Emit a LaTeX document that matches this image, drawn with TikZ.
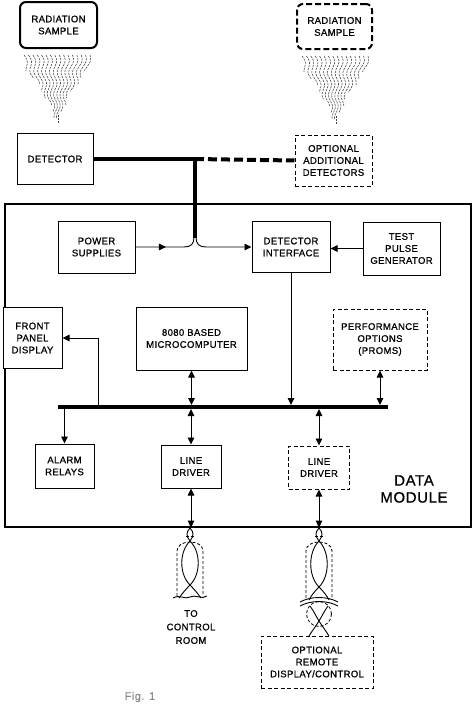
\documentclass[tikz,border=0pt]{standalone}
\usepackage{fontspec}
\setmainfont{Liberation Sans}[LetterSpace=4, FakeBold=0.8]
\usetikzlibrary{arrows.meta,decorations.markings}
\begin{document}
\begin{tikzpicture}[x=1pt,y=-1pt,
  font=\fontsize{9.5}{12}\selectfont,
  box/.style={draw, line width=1pt, align=center, inner sep=0pt, fill=white},
  dbox/.style={box, dash pattern=on 4pt off 2.5pt},
  tip/.style={-{Triangle[length=7pt,width=6.5pt]}},
  dtip/.style={{Triangle[length=7pt,width=6.5pt]}-{Triangle[length=7pt,width=6.5pt]}},
  conn/.style={line width=0.9pt},
  shield/.style={line width=0.8pt, dash pattern=on 3pt off 2pt},
  strand/.style={line width=0.9pt},
  midarrow/.style={postaction={decorate}, decoration={markings, mark=at position #1 with {\arrow{Triangle[length=7pt,width=6.5pt]}}}},
  hair/.style={line width=0.55pt, dash pattern=on 2.2pt off 1pt, black!75}
]
\useasboundingbox (0,0) rectangle (474,705);

% radiation samples
\node[box, line width=2pt, rounded corners=6pt, minimum width=77pt, minimum height=46pt] (rs1) at (58.5,25) {RADIATION\\SAMPLE};
\node[box, line width=2pt, rounded corners=6pt, dash pattern=on 6pt off 3pt, minimum width=75pt, minimum height=45pt] (rs2) at (334.5,26.5) {RADIATION\\SAMPLE};

% radiation fans
\foreach \cx/\ty in {57/55, 335/56} {
  \foreach \t in {-33,-28.6,-24.2,-19.8,-15.4,-11,-6.6,-2.2,2.2,6.6,11,15.4,19.8,24.2,28.6,33} {
    \pgfmathsetmacro\L{62*(1-abs(\t)/40)+5}
    \draw[hair] plot[domain=0:\L, samples=30, smooth] ({\cx + \t*(1-0.5*\x/70) + 1.8*sin(\x*16)}, {\ty + \x});
  }
  \draw[hair] (\cx+1,\ty+60) -- (\cx+1,\ty+68);
}

% detector and optional detectors
\node[box, minimum width=76pt, minimum height=51pt] (det) at (55,159) {DETECTOR};
\node[dbox, minimum width=77pt, minimum height=51pt] (oad) at (333.5,160.5) {OPTIONAL\\ADDITIONAL\\DETECTORS};

% data module frame
\node[draw, line width=1.3pt, minimum width=466pt, minimum height=323pt, inner sep=0pt] (mod) at (238,365.5) {};

% boxes inside module
\node[box, minimum width=77pt, minimum height=52pt] (ps) at (96.5,247) {POWER\\SUPPLIES};
\node[box, minimum width=78pt, minimum height=51pt] (di) at (291,247) {DETECTOR\\INTERFACE};
\node[box, minimum width=77pt, minimum height=53pt] (tpg) at (401.5,248.5) {TEST\\PULSE\\GENERATOR};
\node[box, minimum width=59pt, minimum height=61pt] (fpd) at (32.5,338) {FRONT\\PANEL\\DISPLAY};
\node[box, minimum width=111pt, minimum height=63pt] (mc) at (191.5,338.5) {8080 BASED\\MICROCOMPUTER};
\node[dbox, minimum width=94pt, minimum height=61pt] (po) at (380,339.5) {PERFORMANCE\\OPTIONS\\(PROMS)};
\node[box, minimum width=59pt, minimum height=44pt] (ar) at (64.5,466) {ALARM\\RELAYS};
\node[box, minimum width=60pt, minimum height=43pt] (ld1) at (191,466.5) {LINE\\DRIVER};
\node[dbox, minimum width=61pt, minimum height=43pt] (ld2) at (319,467.5) {LINE\\DRIVER};
\node[align=center, font=\fontsize{15}{17}\selectfont] (dm) at (414,489) {DATA\\MODULE};

% thick detector cable
\coordinate (J) at (195,159);
\coordinate (T) at (195,238);
\draw[line width=4pt] (det.east) -- (197,159);
\draw[line width=4pt, dash pattern=on 9pt off 4pt] (J) -- (oad.west);
\draw[line width=4pt] (195,157) -- (T);
\draw[conn, midarrow=0.47] (ps.east) -- (184,247) .. controls (191,247) and (194,244) .. (194,237);
\draw[conn, tip] (196,237) .. controls (196,244) and (199,247) .. (206,247) -- (di.west);
\draw[conn, tip] (tpg.west) -- (di.east |- tpg.west);

% bus
\coordinate (busL) at (58,407);
\coordinate (busR) at (388,407);
\coordinate (busT) at (58,405);
\coordinate (busB) at (58,409);
\draw[line width=4pt] (busL) -- (busR);

\draw[conn, tip] (di.south) -- (di.south |- busT);
\draw[conn, dtip] (mc.south) -- (mc.south |- busT);
\draw[conn, dtip] (po.south) -- (po.south |- busT);
\coordinate (fpdB) at (98,405);
\draw[conn, tip] (fpdB) |- (fpd.east);
\draw[conn, tip] (ar.north |- busB) -- (ar.north);
\draw[conn, dtip] (ld1.north |- busB) -- (ld1.north);
\draw[conn, dtip] (ld2.north |- busB) -- (ld2.north);
\draw[conn, dtip] (ld1.south) -- (ld1.south |- mod.south);
\draw[conn, dtip] (ld2.south) -- (ld2.south |- mod.south);

% left cable
\begin{scope}[shift={(190,0)}]
  \draw[strand] (0,528) .. controls (-4,532) and (-4,536) .. (0,541) .. controls (11,552) and (11,574) .. (0,585) .. controls (-5,590) and (-8,594) .. (-11,598);
  \draw[strand] (0,528) .. controls (4,532) and (4,536) .. (0,541) .. controls (-11,552) and (-11,574) .. (0,585) .. controls (5,590) and (8,594) .. (11,598);
  \draw[shield] (-13,596) -- (-13,551) .. controls (-13,539) and (13,539) .. (13,551) -- (13,596);
  \draw[shield] (-4,536) -- (4,536);
  \draw[strand] (-17,598) .. controls (-10,594) and (-5,600) .. (0,597) .. controls (5,594) and (12,600) .. (17,596);
\end{scope}
\node[align=center, font=\fontsize{9.5}{13.5}\selectfont] (tcr) at (191,627) {TO\\CONTROL\\ROOM};

% right cable
\begin{scope}[shift={(319,0)}]
  \draw[strand] (0,528) .. controls (-4,532) and (-4,536) .. (0,541) .. controls (11,552) and (11,576) .. (0,587) .. controls (-5,592) and (-8,596) .. (-10,600);
  \draw[strand] (0,528) .. controls (4,532) and (4,536) .. (0,541) .. controls (-11,552) and (-11,576) .. (0,587) .. controls (5,592) and (8,596) .. (10,600);
  \draw[shield] (-13,598) -- (-13,551) .. controls (-13,539) and (13,539) .. (13,551) -- (13,598);
  \draw[shield] (-4,536) -- (4,536);
  \draw[strand] (-19,602) .. controls (-8,596) and (8,596) .. (19,602);
  \draw[strand] (-19,606) .. controls (-8,600) and (8,600) .. (19,606);
  \draw[shield] (0,614) circle[radius=12.5];
  \draw[strand] (-9,606) .. controls (-6,610) and (-3,616) .. (0,621) .. controls (3,626) and (7,631) .. (10,636);
  \draw[strand] (9,606) .. controls (6,610) and (3,616) .. (0,621) .. controls (-3,626) and (-7,631) .. (-10,636);
\end{scope}
\node[dbox, minimum width=112pt, minimum height=52pt] (ord) at (317,662) {OPTIONAL\\REMOTE\\DISPLAY/CONTROL};

\node[text=black!45, font=\fontsize{11}{13}\selectfont] (fig) at (140,697) {Fig. 1};
\end{tikzpicture}
\end{document}
